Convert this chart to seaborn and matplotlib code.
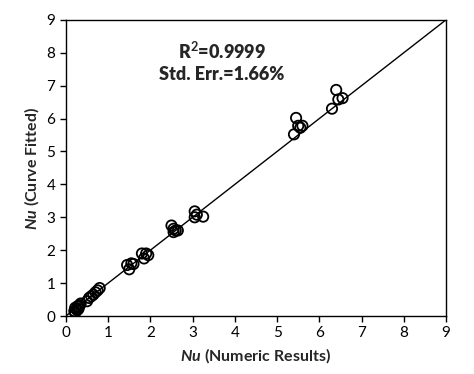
import pandas as pd
import matplotlib
matplotlib.use("Agg")
import matplotlib.pyplot as plt
import seaborn as sns

# data
nu_numeric = [0.20, 0.22, 0.25, 0.28, 0.30, 0.33, 0.35, 0.22, 0.30, 0.27,
              0.50, 0.55, 0.60, 0.65, 0.70, 0.75, 0.80,
              1.45, 1.50, 1.55, 1.60,
              1.80, 1.85, 1.90, 1.95,
              2.50, 2.55, 2.60, 2.65, 2.55,
              3.05, 3.05, 3.10, 3.25,
              5.40, 5.45, 5.50, 5.55, 5.60,
              6.30, 6.40, 6.45, 6.55]
nu_fitted = [0.15, 0.25, 0.20, 0.30, 0.28, 0.33, 0.38, 0.10, 0.22, 0.18,
             0.45, 0.55, 0.60, 0.65, 0.72, 0.78, 0.85,
             1.55, 1.42, 1.60, 1.58,
             1.90, 1.75, 1.90, 1.85,
             2.75, 2.65, 2.60, 2.60, 2.55,
             3.18, 3.00, 3.08, 3.02,
             5.52, 6.02, 5.78, 5.72, 5.78,
             6.30, 6.87, 6.58, 6.62]
fit_line = [0, 9]

sns.set_style("ticks")
plt.rcParams["font.family"] = ["Lato", "DejaVu Sans"]
plt.rcParams["mathtext.fontset"] = "custom"
plt.rcParams["mathtext.it"] = "Lato:italic:bold"
plt.rcParams["mathtext.bf"] = "Lato:bold"
plt.rcParams["mathtext.rm"] = "Lato:bold"

df = pd.DataFrame({"numeric": nu_numeric, "fitted": nu_fitted})
line_df = pd.DataFrame({"x": fit_line, "y": fit_line})

fig = plt.figure(figsize=(4.74, 3.74), dpi=100)
ax = fig.add_axes([0.139, 0.155, 0.802, 0.792])

sns.lineplot(data=line_df, x="x", y="y", color="black", linewidth=1.0, ax=ax)
sns.scatterplot(data=df, x="numeric", y="fitted", s=55, facecolor="none",
                edgecolor="black", linewidth=1.3, ax=ax, zorder=3)

ax.set_xlim(0, 9)
ax.set_ylim(0, 9)
ax.set_xticks(range(0, 10))
ax.set_yticks(range(0, 10))
ax.tick_params(direction="out", length=4, width=1, labelsize=11, colors="black")
for side in ["top", "right", "left", "bottom"]:
    ax.spines[side].set_visible(True)
    ax.spines[side].set_color("black")
    ax.spines[side].set_linewidth(1)

ax.set_xlabel(r"$\it{Nu}$ (Numeric Results)", fontsize=11.5, fontweight="bold")
ax.set_ylabel(r"$\it{Nu}$ (Curve Fitted)", fontsize=11.5, fontweight="bold")

ax.text(3.7, 8.05, "R$^\\mathbf{2}$=0.9999", ha="center", va="center",
        fontsize=13, fontweight="heavy")
ax.text(3.7, 7.35, "Std. Err.=1.66%", ha="center", va="center",
        fontsize=13, fontweight="heavy")

fig.savefig("out.png", dpi=100)
